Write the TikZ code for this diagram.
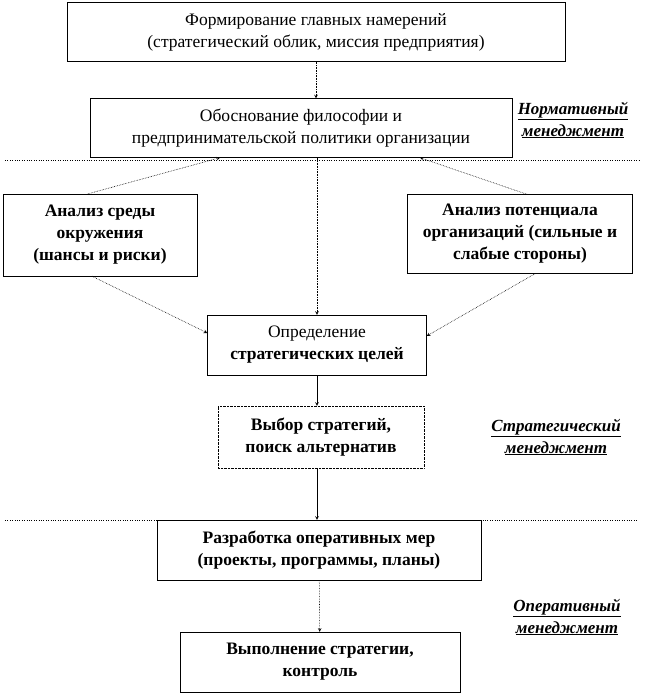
\documentclass[tikz,border=0pt]{standalone}
\usepackage{fontspec}
\setmainfont{Liberation Serif}
\usetikzlibrary{positioning}
\tikzstyle{block} = [rectangle, draw=black, align=center, inner sep=0pt, font=\fontsize{17.5}{22}\selectfont]
\tikzstyle{arrow} = [semithick, ->, >=stealth]
\tikzstyle{darrow} = [semithick, densely dotted, ->, >=stealth]
\tikzstyle{level} = [align=center, font=\fontsize{17}{22}\selectfont\bfseries\itshape]

\begin{document}
\begin{tikzpicture}[x=1pt, y=-1pt]
        \useasboundingbox (0,0) rectangle (650,697);

            \node (goal) [block, minimum width=498pt, minimum height=59pt] at (316,32) {Формирование главных намерений\\(стратегический облик, миссия предприятия)};
            \node (philo) [block, minimum width=422pt, minimum height=59pt] at (301,128) {Обоснование философии и\\предпринимательской политики организации};
            \node (env) [block, minimum width=194pt, minimum height=82pt, font=\fontsize{17.5}{22}\selectfont\bfseries] at (100,235) {Анализ среды\\окружения\\(шансы и риски)};
            \node (pot) [block, minimum width=225pt, minimum height=79pt, font=\fontsize{17.5}{22}\selectfont\bfseries] at (520,234) {Анализ потенциала\\организаций (сильные и\\слабые стороны)};
            \node (aims) [block, minimum width=219pt, minimum height=60pt] at (317,345) {Определение\\\textbf{стратегических целей}};
            \node (choice) [block, densely dotted, minimum width=206pt, minimum height=62pt, font=\fontsize{17.5}{22}\selectfont\bfseries] at (321,437) {Выбор стратегий,\\поиск альтернатив};
            \node (ops) [block, minimum width=324pt, minimum height=60pt, font=\fontsize{17.5}{22}\selectfont\bfseries] at (319,550) {Разработка оперативных мер\\(проекты, программы, планы)};
            \node (run) [block, minimum width=280pt, minimum height=60pt, font=\fontsize{17.5}{22}\selectfont\bfseries] at (320,662) {Выполнение стратегии,\\контроль};

            \node (norm) [level] at (573,120) {\underline{Нормативный}\\\underline{менеджмент}};
            \node (strat) [level] at (556,437) {\underline{Стратегический}\\\underline{менеджмент}};
            \node (oper) [level] at (567,617) {\underline{Оперативный}\\\underline{менеджмент}};

            % level borders
            \draw [dotted] (5,160) -- (640,160);
            \draw [dotted] (5,520) -- (637,520);

            \draw [darrow] (goal.south) -- (goal.south |- philo.north);
            \draw [darrow] (env.north) ++(-12,0) coordinate (e1) -- (philo.south -| 220,0);
            \draw [darrow] (pot.north) ++(7,0) coordinate (p1) -- (philo.south -| 420,0);
            \draw [darrow] (philo.south -| aims.north) -- (aims.north);
            \draw [darrow] (env.south) ++(-8,0) coordinate (e2) -- (aims.west |- 0,333);
            \draw [darrow] (pot.south) ++(15,0) coordinate (p2) -- (aims.east |- 0,336);
            \draw [arrow] (aims) -- (aims |- choice.north);
            \draw [arrow] (choice.south -| aims) -- (ops.north -| aims);
            \draw [darrow] (ops) -- (run);

\end{tikzpicture}
\end{document}
